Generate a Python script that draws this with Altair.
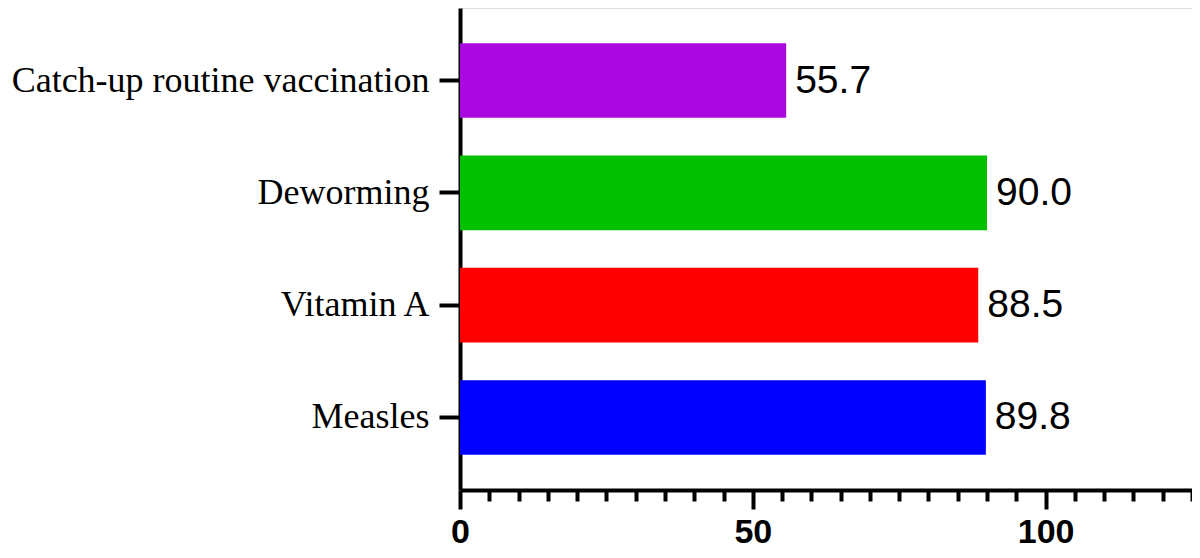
import altair as alt
import pandas as pd

categories = ["Catch-up routine vaccination", "Deworming", "Vitamin A", "Measles"]
values = [55.7, 90.0, 88.5, 89.8]
colors = ["#AA08E0", "#00C000", "#FF0000", "#0000FF"]
x_ticks = list(range(0, 130, 5))

df = pd.DataFrame({"cat": categories, "val": values, "color": colors})

y_enc = alt.Y(
    "cat:N",
    sort=categories,
    title=None,
    scale=alt.Scale(paddingInner=0.336, paddingOuter=0.314),
    axis=alt.Axis(
        labelFont="Liberation Serif",
        labelFontSize=36,
        labelColor="black",
        labelPadding=10,
        labelLimit=0,
        tickSize=21,
        tickWidth=4,
        tickColor="black",
        domainWidth=4,
        domainColor="black",
        grid=False,
    ),
)

x_enc = alt.X(
    "val:Q",
    title=None,
    scale=alt.Scale(domain=[0, 125], nice=False),
    axis=alt.Axis(
        values=x_ticks,
        labelExpr="datum.value % 50 === 0 ? datum.label : ''",
        labelFont="Liberation Sans",
        labelFontWeight="bold",
        labelFontSize=34,
        labelColor="black",
        labelPadding=6,
        labelFlush=False,
        labelOverlap=False,
        tickSize={"condition": {"test": "datum.value % 50 === 0", "value": 19}, "value": 11},
        tickWidth=4,
        tickColor="black",
        domainWidth=4,
        domainColor="black",
        grid=False,
    ),
)

base = alt.Chart(df).encode(y=y_enc, x=x_enc)

bars = base.mark_bar().encode(color=alt.Color("color:N", scale=None))

text = base.mark_text(
    align="left", baseline="middle", dx=9, font="Liberation Sans", fontSize=39, color="black"
).encode(text=alt.Text("val:Q", format=".1f"))

chart = (
    alt.layer(bars, text)
    .properties(
        width=732,
        height=482,
        autosize="none",
        padding={"left": 452, "top": 0, "right": 0, "bottom": 60},
    )
    .configure_view(stroke="white", strokeWidth=0)
    .configure(background="white")
)

chart.save("out.html", embed_options={"renderer": "svg", "actions": False})
